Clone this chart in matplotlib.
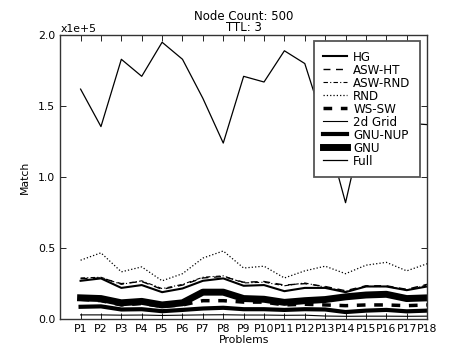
import matplotlib
matplotlib.use("Agg")
import matplotlib.pyplot as plt
from matplotlib.ticker import FuncFormatter

problems = ["P%d" % i for i in range(1, 19)]

hg      = [27000, 28700, 22000, 24000, 19000, 21600, 27000, 28700, 23500, 24000, 19700, 22000, 22000, 19000, 23000, 23000, 20400, 23000]
asw_ht  = [28500, 29000, 25000, 26500, 21000, 24000, 29000, 30000, 26000, 26500, 24000, 25000, 23000, 20000, 23500, 23500, 21000, 24500]
asw_rnd = [29000, 29500, 24500, 27000, 21500, 24500, 29500, 30500, 25500, 26000, 23500, 25500, 22500, 19500, 23000, 23000, 20500, 24000]
rnd     = [41500, 46700, 33300, 36800, 27000, 32000, 43000, 48000, 36000, 37300, 29000, 34000, 37300, 32000, 38000, 40000, 34000, 39000]
ws_sw   = [14000, 13000, 10000, 11000, 9000, 10000, 13000, 13000, 12000, 12000, 10000, 10500, 10000, 9500, 10000, 10000, 9500, 10000]
grid2d  = [3000, 3000, 2800, 2900, 2600, 2800, 3000, 3100, 2900, 2900, 2700, 2800, 2200, 2000, 2100, 2100, 2000, 2100]
gnu_nup = [8700, 9000, 6800, 7000, 5600, 6500, 7500, 8000, 7000, 7000, 6500, 7000, 6800, 5000, 6000, 6500, 5500, 6000]
gnu     = [15000, 14500, 11500, 12500, 10000, 11500, 19000, 19000, 14500, 14000, 11800, 13000, 13800, 15700, 17000, 17500, 14500, 15000]
full    = [162000, 135600, 183000, 171000, 195000, 183000, 155500, 124000, 171000, 167000, 189000, 180000, 135000, 82000, 145000, 138000, 138000, 137000]

series = [
    ("HG", hg, dict(ls="-", lw=1.5)),
    ("ASW-HT", asw_ht, dict(ls=(0, (5, 4)), lw=1.0)),
    ("ASW-RND", asw_rnd, dict(ls=(0, (4, 2, 1, 2)), lw=0.8)),
    ("RND", rnd, dict(ls=":", lw=0.9)),
    ("WS-SW", ws_sw, dict(ls=(0, (2.5, 2.5)), lw=2.5)),
    ("2d Grid", grid2d, dict(ls="-", lw=0.8)),
    ("GNU-NUP", gnu_nup, dict(ls="-", lw=3.0)),
    ("GNU", gnu, dict(ls="-", lw=5.0)),
    ("Full", full, dict(ls="-", lw=0.9)),
]

fig = plt.figure(figsize=(4.74, 3.55), dpi=100)
ax = fig.add_axes([0.127, 0.101, 0.774, 0.800])

x = list(range(1, 19))
for name, vals, st in series:
    ax.plot(x, vals, color="black", label=name, **st)

ax.set_xlim(0, 18)
ax.set_ylim(0, 200000)
ax.set_xticks(x)
ax.set_xticklabels(problems, fontsize=7.8)
ax.set_yticks([0, 50000, 100000, 150000, 200000])
ax.yaxis.set_major_formatter(FuncFormatter(lambda v, p: "%.1f" % (v / 1e5)))
ax.tick_params(axis="both", direction="in", top=True, right=True, labelsize=7.8, length=4, width=0.6)
for s in ax.spines.values():
    s.set_color("#333333")
    s.set_linewidth(1.0)

ax.text(0.0, 1.005, "x1e+5", transform=ax.transAxes, fontsize=7.8, ha="left", va="bottom")
ax.set_xlabel("Problems", fontsize=7.8, labelpad=1)
ax.set_ylabel("Match", fontsize=7.8, labelpad=6)
ax.set_title("Node Count: 500\nTTL: 3", fontsize=8.5, linespacing=0.8, pad=3)

leg = ax.legend(loc="upper right", fontsize=8.6, handlelength=2.0, labelspacing=0.0,
                fancybox=False, framealpha=1, edgecolor="#555555",
                bbox_to_anchor=(0.981, 0.979), borderpad=0.8, handletextpad=0.5,
                borderaxespad=0)
leg.get_frame().set_linewidth(1.3)

fig.savefig("out.png", dpi=100)
